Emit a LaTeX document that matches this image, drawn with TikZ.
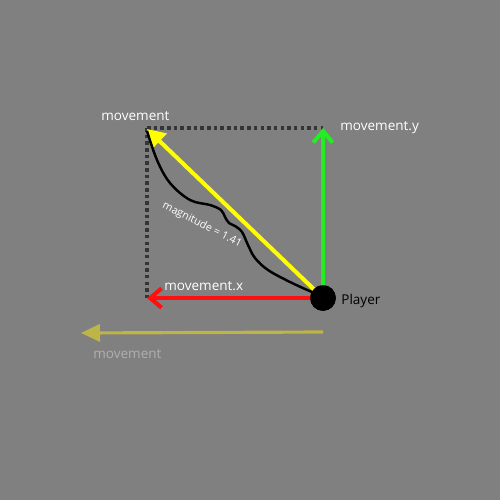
\documentclass[tikz,border=0pt]{standalone}
\usepackage{fontspec}
\setmainfont{Open Sans}
\usetikzlibrary{arrows.meta}
\definecolor{bggray}{HTML}{808080}
\definecolor{guidegray}{HTML}{353535}
\definecolor{vecred}{HTML}{FF1010}
\definecolor{vecgreen}{HTML}{22EE22}
\definecolor{vecyellow}{HTML}{FFFF00}
\definecolor{oldyellow}{HTML}{BDB545}
\definecolor{oldtext}{HTML}{B0B0B0}
\begin{document}
\begin{tikzpicture}[x=0.02cm, y=-0.02cm,
  tag/.style={text=white, font=\fontsize{7.7}{9}\selectfont, inner sep=0pt, anchor=base west},
  guide/.style={draw=guidegray, line width=2pt, dash pattern=on 2pt off 1.8pt},
  xvec/.style={draw=vecred, line width=2.3pt, -{Straight Barb[length=6.5pt, width=11pt]}},
  yvec/.style={draw=vecgreen, line width=2.3pt, -{Straight Barb[length=6.5pt, width=11pt]}},
  sumvec/.style={draw=vecyellow, line width=2.3pt, -{Triangle[length=10pt, width=11.5pt]}},
  oldvec/.style={draw=oldyellow, line width=1.8pt, -{Triangle[length=10.8pt, width=9.8pt]}},
  player/.style={circle, fill=black, minimum size=14.6pt, inner sep=0pt}]

\fill[bggray] (0,0) rectangle (500,500);

\coordinate (corner) at (147,128);
\coordinate (ytip) at (323,128);
\coordinate (xtip) at (147,298);
\coordinate (sumtip) at (147,129);
\coordinate (oldstart) at (323,332);
\coordinate (oldtip) at (81,333);

\draw[guide] (corner) -- (ytip);
\draw[guide] (corner) -- (xtip);

\node[player] (player) at (323,298) {};
\draw[xvec] (player.center) -- (xtip);
\draw[yvec] (player.center) -- (ytip);
\draw[sumvec] (player.center) -- (sumtip);
\node[player] at (player) {};

\draw[line width=1.4pt] plot[smooth, tension=0.6] coordinates {(147,131) (157,160) (170,183) (190,200) (210,205) (221,210) (225,217) (229,223) (235,226) (242,232) (248,245) (255,258) (268,270) (290,282) (314,293)};

\node[tag] (sumlabel) at (101,120) {movement};
\node[tag] (ylabel) at (340,131) {movement.y};
\node[tag] (xlabel) at (164,290) {movement.x};
\node[tag, text=black] (playerlabel) at (341,304) {Player};
\node[text=white, font=\fontsize{6.1}{7}\selectfont, inner sep=0pt, rotate=-27] (maglabel) at (202,225) {magnitude = 1.41};

\draw[oldvec] (oldstart) -- (oldtip);
\node[tag, text=oldtext] (oldlabel) at (93,358) {movement};
\end{tikzpicture}
\end{document}
